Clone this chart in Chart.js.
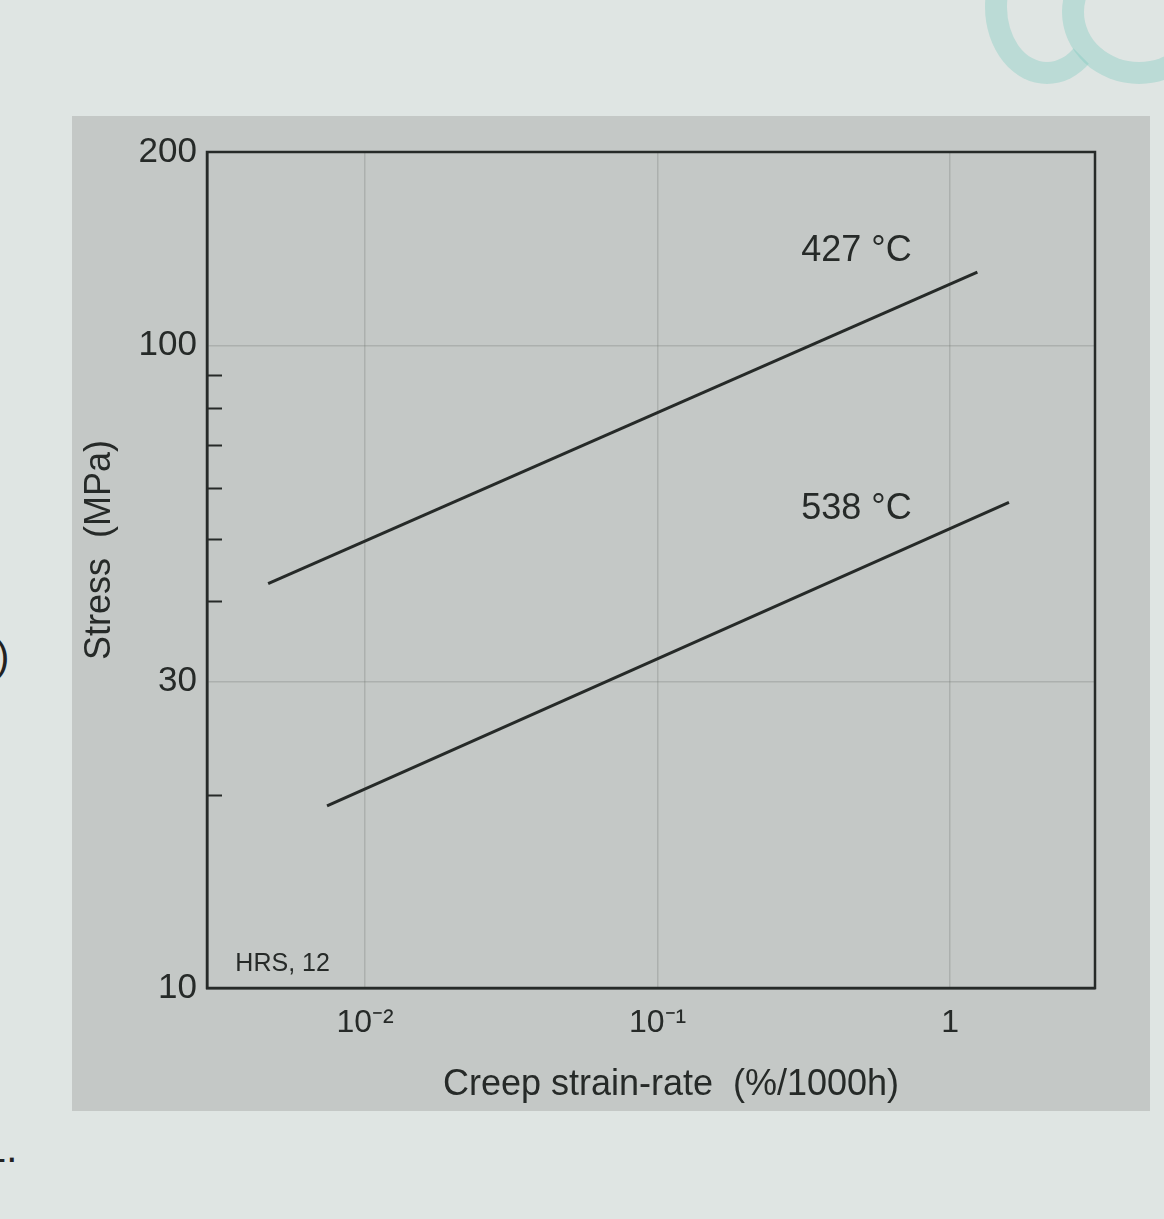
<!DOCTYPE html>
<html>
<head>
<meta charset="utf-8">
<script src="https://cdn.jsdelivr.net/npm/chart.js@4.4.1/dist/chart.umd.min.js"></script>
<style>
  html, body { margin: 0; padding: 0; }
  body { width: 1164px; height: 1219px; background: #dfe5e3; position: relative; overflow: hidden; font-family: "Liberation Sans", Arial, sans-serif; }
  #panel { position: absolute; left: 72px; top: 116px; width: 1078px; height: 995px; background: #c4c8c6; }
  #wrap { position: absolute; left: 0; top: 0; width: 1164px; height: 1219px; }
  .logo { position: absolute; border: 22px solid rgba(120, 200, 190, 0.35); border-radius: 50%; }
  .edge { position: absolute; color: #222; font-size: 40px; line-height: 1; }
</style>
</head>
<body>
<div class="logo" style="left:985px; top:-70px; width:80px; height:110px; border-right-color:transparent;"></div>
<div class="logo" style="left:1062px; top:-60px; width:110px; height:100px; border-top-color:transparent;"></div>
<div class="edge" style="left:-4px; top:636px;">)</div>
<div class="edge" style="left:-16px; top:1128px;">1.</div>
<div id="panel"></div>
<div id="wrap"><canvas id="creepChart" width="1164" height="1219"></canvas></div>

<script>
// ================= DATA =================
const seriesNames = ["427 °C", "538 °C"];
const rate427 = [0.00466, 1.24];     // creep strain-rate (%/1000h)
const stress427 = [42.6, 130];       // MPa
const rate538 = [0.00741, 1.59];
const stress538 = [19.2, 57.0];

const xTicks = [0.01, 0.1, 1];
const xTickLabels = ["10\u207B\u00B2", "10\u207B\u00B9", "1"];
const yTicks = [10, 30, 100, 200];
const yMinorTicks = [20, 40, 50, 60, 70, 80, 90];

// label anchors (data coords)
const labelRate = [0.31, 0.31];
const labelStress = [140, 55.7];
const noteText = "HRS, 12";
const noteRate = 0.0036;
const noteStress = 10.9;

const ink = "#262a28";

// ================= PLUGIN: frame, minor ticks, labels =================
const extras = {
  id: "extras",
  afterDraw(chart) {
    const { ctx, chartArea: a, scales: { x, y } } = chart;
    ctx.save();
    // frame
    ctx.strokeStyle = ink;
    ctx.lineWidth = 2.5;
    ctx.strokeRect(a.left, a.top, a.right - a.left, a.bottom - a.top);
    // minor ticks inside left axis
    ctx.lineWidth = 2;
    yMinorTicks.forEach(v => {
      const py = Math.round(y.getPixelForValue(v)) + 0.5;
      ctx.beginPath();
      ctx.moveTo(a.left, py);
      ctx.lineTo(a.left + 15, py);
      ctx.stroke();
    });
    // curve labels
    ctx.fillStyle = ink;
    ctx.textBaseline = "middle";
    ctx.textAlign = "left";
    ctx.font = '36px "Liberation Sans", Arial, sans-serif';
    seriesNames.forEach((name, i) => {
      ctx.fillText(name, x.getPixelForValue(labelRate[i]), y.getPixelForValue(labelStress[i]));
    });
    ctx.font = '25px "Liberation Sans", Arial, sans-serif';
    ctx.fillText(noteText, x.getPixelForValue(noteRate), y.getPixelForValue(noteStress));
    ctx.restore();
  }
};

// ================= CHART =================
Chart.defaults.font.family = '"Liberation Sans", Arial, sans-serif';
Chart.defaults.color = ink;

const gridInk = "rgba(110,115,113,0.28)";

new Chart(document.getElementById("creepChart"), {
  type: "line",
  data: {
    datasets: [
      {
        label: seriesNames[0],
        data: rate427.map((r, i) => ({ x: r, y: stress427[i] })),
        borderColor: ink,
        borderWidth: 3,
        pointRadius: 0,
        fill: false
      },
      {
        label: seriesNames[1],
        data: rate538.map((r, i) => ({ x: r, y: stress538[i] })),
        borderColor: ink,
        borderWidth: 3,
        pointRadius: 0,
        fill: false
      }
    ]
  },
  options: {
    responsive: false,
    animation: false,
    layout: { padding: { left: 78, top: 152, right: 69, bottom: 106 } },
    plugins: {
      legend: { display: false },
      tooltip: { enabled: false }
    },
    scales: {
      x: {
        type: "logarithmic",
        min: 0.00288,
        max: 3.13,
        afterBuildTicks: s => { s.ticks = xTicks.map(v => ({ value: v })); },
        afterFit: s => { s.height = 125; },
        ticks: {
          padding: 16,
          font: { size: 32 },
          color: ink,
          maxRotation: 0,
          callback: (v) => xTickLabels[xTicks.indexOf(v)]
        },
        grid: { color: gridInk, lineWidth: 1.5, drawTicks: false },
        border: { color: ink, width: 2.5 },
        title: {
          display: true,
          text: "    Creep strain-rate  (%/1000h)",
          font: { size: 36 },
          color: ink,
          padding: { top: 0, bottom: 6 }
        }
      },
      y: {
        type: "logarithmic",
        min: 10,
        max: 200,
        afterBuildTicks: s => { s.ticks = yTicks.map(v => ({ value: v })); },
        afterFit: s => { s.width = 129; },
        ticks: {
          padding: 10,
          font: { size: 35 },
          color: ink,
          callback: (v) => String(v)
        },
        grid: {
          color: c => (c.tick && (c.tick.value === 30 || c.tick.value === 100)) ? gridInk : "rgba(0,0,0,0)",
          lineWidth: 1.5,
          drawTicks: false
        },
        border: { color: ink, width: 2.5 },
        title: {
          display: true,
          text: "    Stress  (MPa)",
          font: { size: 36 },
          color: ink,
          padding: { top: 0, bottom: 0 }
        }
      }
    }
  },
  plugins: [extras]
});
</script>
</body>
</html>
